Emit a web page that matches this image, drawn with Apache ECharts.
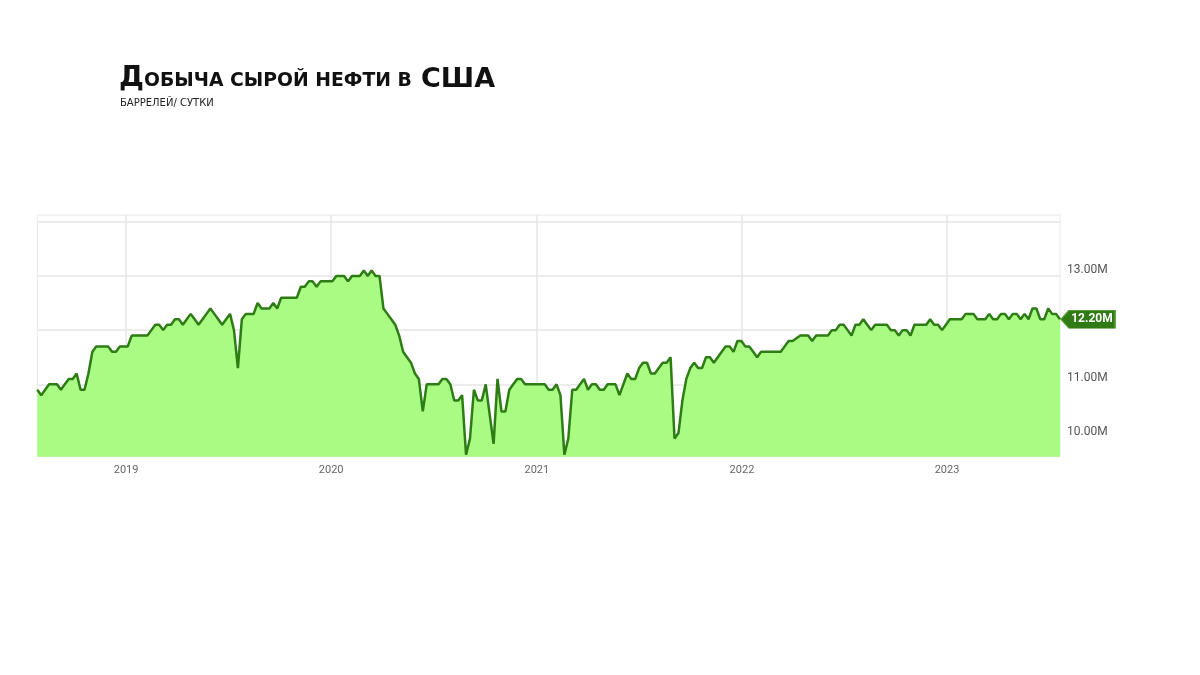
<!DOCTYPE html>
<html>
<head>
<meta charset="utf-8">
<script src="https://cdn.jsdelivr.net/npm/echarts@6/dist/echarts.min.js"></script>
<style>html,body{margin:0;padding:0;background:#fff;}#c{width:1200px;height:675px;}</style>
</head>
<body>
<div id="c"></div>
<script>
// Weekly US crude oil field production, million barrels/day (Fridays)
const firstWeek = [2018, 6, 27];   // 27 Jul 2018
const lastWeek = [2023, 6, 21];    // 21 Jul 2023
const prod2018 = [10.9,10.8,10.9,11.0,11.0,11.0,10.9,11.0,11.1,11.1,11.2,10.9,10.9,11.2,11.6,11.7,11.7,11.7,11.7,11.6,11.6,11.7,11.7];
const prod2019 = [11.7,11.9,11.9,11.9,11.9, 11.9,12.0,12.1,12.1,12.0, 12.1,12.1,12.2,12.2,12.1, 12.2,12.3,12.2,12.1,12.2,
                  12.3,12.4,12.3,12.2,12.1, 12.2,12.3,12.0,11.3,12.2, 12.3,12.3,12.3,12.5,12.4, 12.4,12.4,12.5,12.4,12.6,
                  12.6,12.6,12.6,12.6,12.8, 12.8,12.9,12.9,12.8,12.9, 12.9,12.9];
const prod2020 = [12.9,13.0,13.0,13.0,12.9, 13.0,13.0,13.0,13.1,13.0, 13.1,13.0,13.0,12.4,12.3, 12.2,12.1,11.9,11.6,11.5,
                  11.4,11.2,11.1,10.5,11.0, 11.0,11.0,11.0,11.1,11.1, 11.0,10.7,10.7,10.8,9.7, 10.0,10.9,10.7,10.7,11.0,
                  10.45,9.9,11.1,10.5,10.5, 10.9,11.0,11.1,11.1,11.0, 11.0,11.0];
const prod2021 = [11.0,11.0,11.0,10.9,10.9, 11.0,10.8,9.7,10.0,10.9, 10.9,11.0,11.1,10.9,11.0, 11.0,10.9,10.9,11.0,11.0,
                  11.0,10.8,11.0,11.2,11.1, 11.1,11.3,11.4,11.4,11.2, 11.2,11.3,11.4,11.4,11.5, 10.0,10.1,10.7,11.1,11.3,
                  11.4,11.3,11.3,11.5,11.5, 11.4,11.5,11.6,11.7,11.7, 11.6,11.8,11.8];
const prod2022 = [11.7,11.7,11.6,11.5,11.6, 11.6,11.6,11.6,11.6,11.6, 11.7,11.8,11.8,11.85,11.9, 11.9,11.9,11.8,11.9,11.9,
                  11.9,11.9,12.0,12.0,12.1, 12.1,12.0,11.9,12.1,12.1, 12.2,12.1,12.0,12.1,12.1, 12.1,12.1,12.0,12.0,11.9,
                  12.0,12.0,11.9,12.1,12.1, 12.1,12.1,12.2,12.1,12.1, 12.0,12.1];
const prod2023 = [12.2,12.2,12.2,12.2,12.3, 12.3,12.3,12.2,12.2,12.2, 12.3,12.2,12.2,12.3,12.3, 12.2,12.3,12.3,12.2,12.3,
                  12.2,12.4,12.4,12.2,12.2, 12.4,12.3,12.3,12.2];
const yearTicks = [2019, 2020, 2021, 2022, 2023];
const yLabelValues = [10, 11, 13];
const yGridValues = [11, 12, 13, 14];
const lastLabel = '12.20M';

const values = [].concat(prod2018, prod2019, prod2020, prod2021, prod2022, prod2023);
const seriesData = values.map((v, i) => [new Date(firstWeek[0], firstWeek[1], firstWeek[2] + 7 * i).getTime(), v]);
const yearStarts = yearTicks.map(y => new Date(y, 0, 1).getTime());
const lastPoint = seriesData[seriesData.length - 1];

const chart = echarts.init(document.getElementById('c'), null, {renderer: 'canvas'});
chart.setOption({
  backgroundColor: '#ffffff',
  animation: false,
  graphic: [
    {type: 'text', left: 119, top: 65, style: {text: 'Д', font: 'bold 28px "DejaVu Sans"', fill: '#111'}},
    {type: 'text', left: 144, top: 72, style: {text: 'ОБЫЧА СЫРОЙ НЕФТИ В', font: 'bold 18.8px "DejaVu Sans"', fill: '#111'}},
    {type: 'text', left: 421, top: 66, style: {text: 'США', font: 'bold 27px "DejaVu Sans"', fill: '#111'}},
    {type: 'text', left: 120, top: 98, style: {text: 'БАРРЕЛЕЙ/ СУТКИ', font: '10px "DejaVu Sans"', fill: '#222'}}
  ],
  grid: {left: 37.3, right: 140, top: 215, bottom: 218.3, show: true, borderColor: '#e8e8e8', borderWidth: 1},
  xAxis: {
    type: 'value',
    min: new Date(firstWeek[0], firstWeek[1], firstWeek[2]).getTime(),
    max: new Date(lastWeek[0], lastWeek[1], lastWeek[2]).getTime(),
    axisLine: {show: false},
    axisTick: {show: false, customValues: yearStarts},
    axisLabel: {customValues: yearStarts, formatter: v => String(new Date(v).getFullYear()),
      color: '#666', fontSize: 11, fontFamily: 'Roboto', margin: 8},
    splitLine: {show: true, lineStyle: {color: '#e6e6e6', width: 1.5}}
  },
  yAxis: {
    type: 'value',
    position: 'right',
    min: 9.664,
    max: 14.125,
    axisLine: {show: false},
    axisTick: {show: false, customValues: yGridValues},
    axisLabel: {customValues: yLabelValues, formatter: v => v.toFixed(2) + 'M',
      color: '#555', fontSize: 12, fontFamily: 'Roboto', margin: 7, verticalAlign: 'bottom'},
    splitLine: {show: true, lineStyle: {color: '#e6e6e6', width: 1.5}}
  },
  series: [{
    type: 'line',
    data: seriesData,
    showSymbol: false,
    symbol: 'none',
    lineStyle: {color: '#2d7c14', width: 2.5},
    areaStyle: {color: '#a8fc84', opacity: 1, origin: 'start'},
    markPoint: {
      silent: true,
      data: [{coord: lastPoint, value: lastLabel}],
      symbol: 'path://M0,10 L9,0 L60,0 L60,20 L9,20 Z',
      symbolKeepAspect: false,
      symbolSize: [54, 18],
      symbolOffset: [28, 0],
      itemStyle: {color: '#2f7a12', borderColor: '#4e9a2e', borderWidth: 1},
      label: {show: true, position: 'inside', offset: [4, 0], formatter: lastLabel,
        color: '#fff', fontWeight: 'bold', fontSize: 12, fontFamily: 'Roboto'}
    }
  }]
});
</script>
</body>
</html>
